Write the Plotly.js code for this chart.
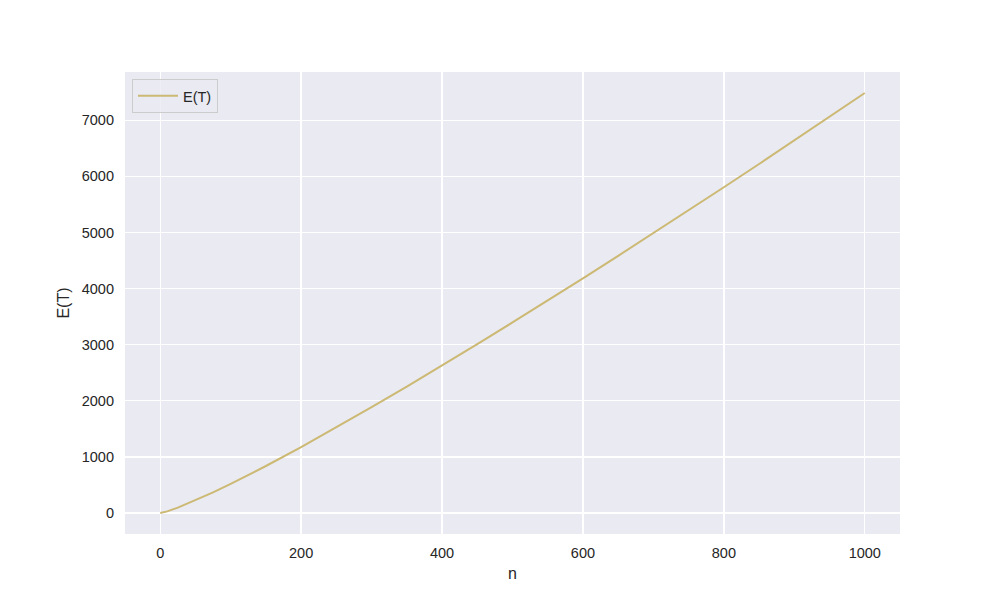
<!DOCTYPE html>
<html>
<head>
<meta charset="utf-8">
<script src="https://cdn.plot.ly/plotly-3.0.1.min.js"></script>
<style>
  html, body { margin: 0; padding: 0; background: #fff; }
  #graph { width: 1000px; height: 600px; }
</style>
</head>
<body>
<div id="graph"></div>
<script>
// n and expected value E(T)
const nValues = [0, 5, 10, 25, 50, 75, 100, 150, 200, 250, 300, 350, 400, 450, 500,
  550, 600, 650, 700, 750, 800, 850, 900, 950, 1000];
const expectedT = [0, 11, 29, 95, 225, 367, 519, 838, 1176, 1527, 1885, 2253, 2628, 3008, 3396,
  3786, 4183, 4583, 4986, 5394, 5805, 6219, 6636, 7055, 7485];

const xTicks = [0, 200, 400, 600, 800, 1000];
const yTicks = [0, 1000, 2000, 3000, 4000, 5000, 6000, 7000];

const FONT = 'Liberation Sans, Arial, sans-serif';
const TEXT = '#262626';

const trace = {
  x: nValues,
  y: expectedT,
  mode: 'lines',
  name: 'E(T)',
  line: { color: '#ccb974', width: 2 }
};

const axisCommon = {
  showgrid: true,
  gridcolor: '#ffffff',
  gridwidth: 1.3,
  zeroline: false,
  showline: false,
  ticks: '',
  tickfont: { family: FONT, size: 14.5, color: TEXT }
};

const layout = {
  width: 1000,
  height: 600,
  paper_bgcolor: '#ffffff',
  plot_bgcolor: '#eaeaf2',
  margin: { l: 125, r: 100, t: 72, b: 66, pad: 0 },
  showlegend: true,
  legend: {
    x: 0.009, y: 0.985,
    xanchor: 'left', yanchor: 'top',
    bgcolor: 'rgba(234,234,242,0.8)',
    bordercolor: '#cccccc',
    borderwidth: 1,
    itemwidth: 40,
    font: { family: FONT, size: 14.5, color: TEXT }
  },
  xaxis: Object.assign({}, axisCommon, {
    range: [-50, 1050],
    tickvals: xTicks,
    ticklabelstandoff: 8,
    title: { text: 'n', font: { family: FONT, size: 16, color: TEXT }, standoff: 8 }
  }),
  yaxis: Object.assign({}, axisCommon, {
    range: [-374, 7859],
    tickvals: yTicks,
    ticklabelstandoff: 10,
    title: { text: 'E(T)', font: { family: FONT, size: 16, color: TEXT }, standoff: 8 }
  })
};

Plotly.newPlot('graph', [trace], layout, { displayModeBar: false, staticPlot: true });
</script>
</body>
</html>
